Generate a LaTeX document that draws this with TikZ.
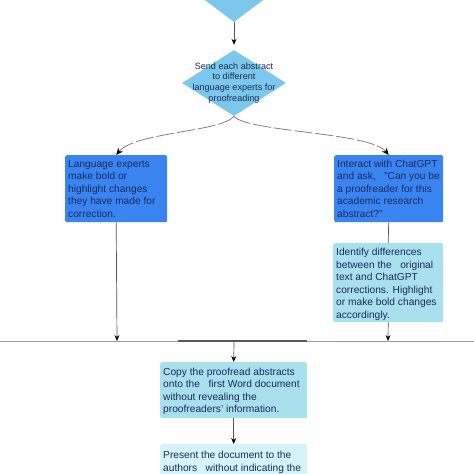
\documentclass[tikz,border=0pt]{standalone}
\usepackage{fontspec}
\setmainfont{Liberation Sans}
\usetikzlibrary{shapes.geometric,arrows.meta}
\definecolor{diafill}{HTML}{7CC8EC}
\definecolor{darkbox}{HTML}{3A84F2}
\definecolor{lightbox}{HTML}{A8E0EE}
\definecolor{palebox}{HTML}{D5F3F8}
\definecolor{txt}{HTML}{1B2A5C}
\definecolor{linegray}{HTML}{555555}
\tikzset{
  dia/.style={diamond,fill=diafill,inner sep=0pt,text width=0pt},
  boxbase/.style={rectangle,rounded corners=2pt,anchor=north west,inner sep=0pt},
  dbox/.style={boxbase,fill=darkbox},
  lbox/.style={boxbase,fill=lightbox},
  pbox/.style={boxbase,fill=palebox},
  btxt/.style={anchor=west,xshift=3pt,align=left,inner sep=0pt,text=txt,
    font=\fontsize{10.2}{12.5}\selectfont},
  conn/.style={draw=linegray,line width=0.7pt},
  arr/.style={conn,-{Stealth[length=6pt,width=5pt,black]}},
  dasharr/.style={draw=gray,line width=0.8pt,dash pattern=on 18pt off 3pt,-{Stealth[length=7pt,width=6pt,black]}}
}
\begin{document}
\begin{tikzpicture}[x=1pt,y=-1pt]
\useasboundingbox (0,0) rectangle (474,474);
\clip (0,0) rectangle (474,474);
% diamonds
\node[dia,minimum width=80pt,minimum height=60pt] (d0) at (234,-8) {};
\node[dia,minimum width=104pt,minimum height=66pt] (d1) at (234,83) {};
\node[text=txt,align=center,inner sep=0pt,font=\fontsize{9.1}{10.8}\selectfont] (d1t) at (234,83) {Send each abstract\\to different\\language experts for\\proofreading};
% boxes
\node[dbox,minimum width=102pt,minimum height=67pt] (b1) at (65,155) {};
\node[btxt] (b1t) at (b1.west) {Language experts\\make bold or\\highlight changes\\they have made for\\correction.};
\node[dbox,minimum width=109pt,minimum height=67pt] (b2) at (334,155) {};
\node[btxt] (b2t) at (b2.west) {Interact with ChatGPT\\and ask,\ \ \ "Can you be\\a proofreader for this\\academic research\\abstract?"};
\node[lbox,minimum width=110pt,minimum height=79pt] (b3) at (333,243) {};
\node[btxt] (b3t) at ([yshift=-1.5pt]b3.west) {Identify differences\\between the\ \ \ original\\text and ChatGPT\\corrections. Highlight\\or make bold changes\\accordingly.};
\node[lbox,minimum width=147pt,minimum height=56pt] (b4) at (160,362) {};
\node[btxt] (b4t) at ([yshift=-1pt]b4.west) {Copy the proofread abstracts\\onto the\ \ \ first Word document\\without revealing the\\proofreaders' information.};
\node[pbox,minimum width=147pt,minimum height=60pt] (b5) at (160,444) {};
\node[btxt,anchor=north west] (b5t) at ([yshift=-7pt]b5.north west) {Present the document to the\\authors\ \ \ without indicating the};
% horizontal line
\coordinate (hl) at (0,341);
\coordinate (hr) at (474,341);
\coordinate (hL) at (117,341);
\coordinate (hR) at (388,341);
\coordinate (hM) at (234,341);
\coordinate (hm1) at (178,341);
\coordinate (hm2) at (307,341);
\draw[draw=gray!80,line width=0.8pt] (hl) -- (hr);
\draw[draw=gray!70!black,line width=1.1pt] (hm1) -- (hm2);
% connectors
\draw[arr,shorten >=5pt] (d0.south) -- (d1.north);
\draw[dasharr] (d1.south) .. controls (222,132) and (135,132) .. (b1.north);
\draw[dasharr] (d1.south) .. controls (246,132) and (370,132) .. (b2.north);
\draw[arr] (b1.south) -- (hL);
\draw[conn] (b2.south) -- (b3.north);
\draw[arr] (b3.south) -- (hR);
\draw[arr] (hM) -- (b4.north);
\draw[arr] (b4.south) -- (b5.north);
\end{tikzpicture}
\end{document}
